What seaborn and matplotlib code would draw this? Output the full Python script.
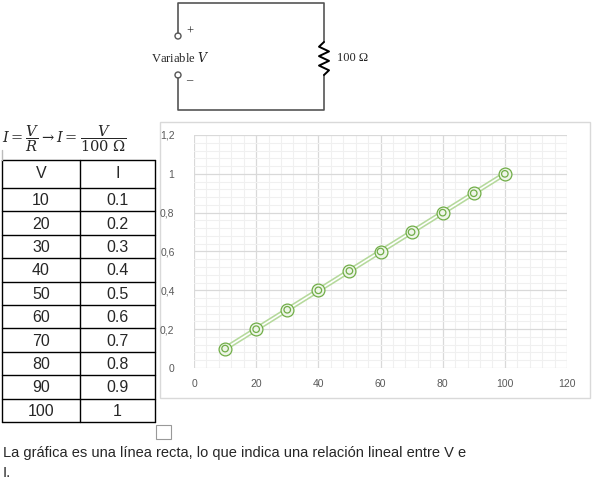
import matplotlib
matplotlib.use("Agg")
import matplotlib.pyplot as plt
import seaborn as sns
import numpy as np
import pandas as pd
from matplotlib.patches import Rectangle, Circle
from matplotlib.ticker import MultipleLocator, FuncFormatter

voltage = [10, 20, 30, 40, 50, 60, 70, 80, 90, 100]
current = [0.1, 0.2, 0.3, 0.4, 0.5, 0.6, 0.7, 0.8, 0.9, 1.0]
current_labels = ["0.1", "0.2", "0.3", "0.4", "0.5", "0.6", "0.7", "0.8", "0.9", "1"]
df = pd.DataFrame({"V": voltage, "I": current})

sns.set_style("white")
plt.rcParams['font.family'] = ['Liberation Sans', 'DejaVu Sans']
plt.rcParams['mathtext.fontset'] = 'dejavuserif'

W, H = 595, 483
fig = plt.figure(figsize=(W/100, H/100), dpi=100)
ax0 = fig.add_axes([0, 0, 1, 1])
ax0.set_xlim(0, W); ax0.set_ylim(H, 0); ax0.axis("off")

# circuit
lc = "#555555"
ax0.plot([178, 178, 324, 324], [33, 3, 3, 42], color=lc, lw=1.2)
ax0.plot([178, 178, 324, 324], [78, 110, 110, 75], color=lc, lw=1.2)
zx = [324, 319, 329, 319, 329, 319, 329, 324]
zy = np.linspace(42, 75, len(zx))
ax0.plot(zx, zy, color="black", lw=1.4)
ax0.add_patch(Circle((178, 36), 3, fill=False, ec=lc, lw=1))
ax0.add_patch(Circle((178, 75), 3, fill=False, ec=lc, lw=1))
sf = ['Liberation Serif', 'DejaVu Serif']
ax0.text(186, 32, "+", family=sf, fontsize=9, va="center")
ax0.text(186, 80, "–", family=sf, fontsize=9, va="center")
ax0.text(151, 58, "Variable $\\mathit{V}$", family=sf, fontsize=9, va="center")
ax0.text(337, 58, "100 Ω", family=sf, fontsize=9, va="center")

# formula
ax0.text(2, 139, r"$I=\dfrac{V}{R}\rightarrow I=\dfrac{V}{100\ \Omega}$", fontsize=10.5, va="center")

# table
x0, xm, x1 = 2, 80, 155
ytop, yh = 160, 188
rowh = (422 - yh) / 10
ys = [ytop, yh] + [yh + rowh*(i+1) for i in range(10)]
for y in ys:
    ax0.plot([x0, x1], [y, y], color="black", lw=1)
for x in [x0, xm, x1]:
    ax0.plot([x, x], [ytop, 422], color="black", lw=1)
ax0.plot([x0, x0], [150, 160], color="#bbbbbb", lw=1)
ax0.text((x0+xm)/2, (ytop+yh)/2, "V", ha="center", va="center", fontsize=11.5)
ax0.text((xm+x1)/2, (ytop+yh)/2, "I", ha="center", va="center", fontsize=11.5)
for i, (v, c) in enumerate(zip(voltage, current_labels)):
    yc = yh + rowh*(i+0.5) + 1
    ax0.text((x0+xm)/2, yc, str(v), ha="center", va="center", fontsize=11.5)
    ax0.text((xm+x1)/2, yc, c, ha="center", va="center", fontsize=11.5)
ax0.add_patch(Rectangle((156, 425), 15, 14, fill=False, ec="#999999", lw=0.8))

# bottom text
ax0.text(3, 453, "La gráfica es una línea recta, lo que indica una relación lineal entre V e",
         fontsize=10.5, va="center")
ax0.text(3, 473, "I.", fontsize=10.5, va="center")

# chart frame
ax0.add_patch(Rectangle((160, 122), 430, 276, fill=False, ec="#d9d9d9", lw=1))

ax = fig.add_axes([194/W, 1-368/H, 373/W, 233/H])
ax.set_xlim(0, 120); ax.set_ylim(0, 1.2)
ax.xaxis.set_major_locator(MultipleLocator(20))
ax.xaxis.set_minor_locator(MultipleLocator(4))
ax.yaxis.set_major_locator(MultipleLocator(0.2))
ax.yaxis.set_minor_locator(MultipleLocator(0.04))
ax.grid(which="minor", color="#f0f0f0", lw=0.8)
ax.grid(which="major", color="#d9d9d9", lw=0.9)
ax.set_axisbelow(True)
for s in ax.spines.values():
    s.set_visible(False)
ax.tick_params(which="both", length=0, labelsize=7.5, colors="#595959")
ax.tick_params(axis="x", pad=8)
ax.tick_params(axis="y", pad=14)
ax.yaxis.set_major_formatter(FuncFormatter(lambda v, p: ("%g" % round(v, 1)).replace(".", ",")))

sns.lineplot(data=df, x="V", y="I", ax=ax, color="#b5d99c", lw=3.5, zorder=3)
sns.lineplot(data=df, x="V", y="I", ax=ax, color="white", lw=1.2, zorder=4)
sns.scatterplot(data=df, x="V", y="I", ax=ax, s=85, facecolor="#eef5e8", edgecolor="#70ad47", linewidth=0.9, zorder=5)
sns.scatterplot(data=df, x="V", y="I", ax=ax, s=22, facecolor="none", edgecolor="#70ad47", linewidth=0.9, zorder=6)
ax.set_xlabel(""); ax.set_ylabel("")

fig.savefig("out.png", dpi=100)
